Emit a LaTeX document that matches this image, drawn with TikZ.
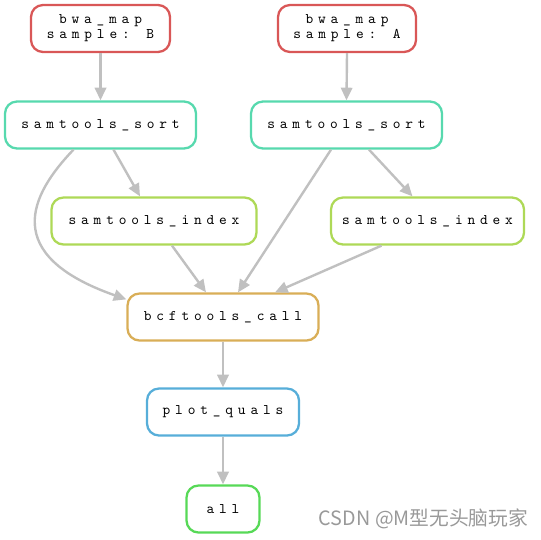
\documentclass[tikz,border=0pt]{standalone}
\usepackage{fontspec}
\usetikzlibrary{arrows.meta,calc}
\newfontfamily\cjk{Noto Sans CJK SC}
\newfontfamily\dotfont[LetterSpace=33]{lmmono10-regular.otf}
\definecolor{cred}{HTML}{D95757}
\definecolor{corange}{HTML}{D9AE57}
\definecolor{cyg}{HTML}{AED957}
\definecolor{cgreen}{HTML}{57D957}
\definecolor{cteal}{HTML}{57D9AE}
\definecolor{cblue}{HTML}{57AED9}
\definecolor{edgec}{HTML}{C0C0C0}
\definecolor{wmark}{HTML}{999999}
\tikzset{
  job/.style={draw=#1, line width=1.7pt, rounded corners=9pt, fill=white,
    minimum height=35.25pt, inner sep=0pt, align=center,
    font=\dotfont\fontsize{11pt}{11.25pt}\selectfont},
  dep/.style={draw=edgec, line width=1.8pt,
    -{Triangle[length=9.5pt,width=8.5pt]}, fill=none},
}
\begin{document}
\begin{tikzpicture}[x=0.75pt,y=-0.75pt]
\useasboundingbox (0,0) rectangle (541,539);
\node[job=cred, minimum width=104.25pt] (bwaB) at (100.5,28.5) {bwa\_map\\sample: B};
\node[job=cred, minimum width=103.5pt] (bwaA) at (347,28.5) {bwa\_map\\sample: A};
\node[job=cteal, minimum width=143.25pt] (sortL) at (100.5,125) {samtools\_sort};
\node[job=cteal, minimum width=143.25pt] (sortR) at (346.5,125) {samtools\_sort};
\node[job=cyg, minimum width=153.75pt] (indexL) at (154,221) {samtools\_index};
\node[job=cyg, minimum width=144.75pt] (indexR) at (427.5,221) {samtools\_index};
\node[job=corange, minimum width=143.25pt] (bcf) at (223,317) {bcftools\_call};
\node[job=cblue, minimum width=114pt] (plot) at (223,412) {plot\_quals};
\node[job=cgreen, minimum width=54.75pt] (all) at (223,509) {all};
\node[text=wmark, font=\cjk\fontsize{14.8pt}{16pt}\selectfont, anchor=center] (wm) at (423.5,519) {CSDN @M型无头脑玩家};

\draw[dep] (bwaB.south) -- (sortL.north);
\draw[dep] (bwaA.south) -- (sortR.north);
\draw[dep] ($(sortL.south)+(13,0)$) -- ($(indexL.north)+(-14,0)$);
\draw[dep] ($(sortR.south)+(22.5,0)$) -- ($(indexR.north)+(-15,0)$);
\draw[dep] ($(sortL.south)+(-27,0)$) .. controls (30,195) and (0,255) .. ($(bcf.north west)+(0,7)$);
\draw[dep] ($(indexL.south)+(18,0)$) -- ($(bcf.north)+(-17,0)$);
\draw[dep] ($(sortR.south)+(-15.5,0)$) -- ($(bcf.north)+(15,0)$);
\draw[dep] ($(indexR.south)+(-46,0)$) -- ($(bcf.north)+(52,0)$);
\draw[dep] (bcf.south) -- (plot.north);
\draw[dep] (plot.south) -- (all.north);
\end{tikzpicture}
\end{document}
